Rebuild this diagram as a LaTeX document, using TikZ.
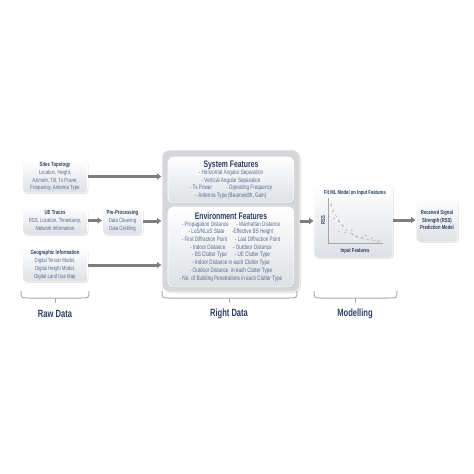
\documentclass[tikz,border=0pt]{standalone}
\usepackage{fontspec}
\setmainfont{Liberation Sans}[FakeStretch=0.72]
\usetikzlibrary{shapes,arrows,arrows.meta,shadows}
\definecolor{titleblue}{HTML}{2B3F63}
\definecolor{bodyblue}{HTML}{566C92}
\definecolor{boxgray}{HTML}{DDE0E5}
\definecolor{outergray}{HTML}{D6D7DA}
\definecolor{arrowgray}{HTML}{7E7E7E}
\tikzstyle{block} = [rectangle, draw=white, line width=0.6pt, top color=white,
    bottom color=boxgray, rounded corners=4pt, align=center, inner sep=1pt,
    text=bodyblue, font=\fontsize{6}{7.9}\selectfont,
    drop shadow={opacity=0.3, shadow xshift=0.8pt, shadow yshift=-0.8pt}]
\tikzstyle{outer} = [rectangle, draw=white, line width=0.8pt, fill=outergray,
    rounded corners=7pt, drop shadow={opacity=0.25, shadow xshift=1pt, shadow yshift=-1pt}]
\tikzstyle{feature} = [block, rounded corners=6pt, font=\fontsize{6.4}{7.7}\selectfont]
\tikzstyle{line} = [draw=arrowgray, line width=3pt, dash pattern=on 0.6pt off 0.35pt,
    -{Latex[length=4.5pt, width=7pt]}]
\tikzstyle{brace} = [draw=gray!65, line width=1pt]
\tikzstyle{stage} = [text=titleblue, font=\bfseries\fontsize{10.5}{12}\selectfont]
\newcommand{\hd}[1]{{\bfseries\color{titleblue}#1}}
\newcommand{\bighd}[1]{{\bfseries\color{titleblue}\fontsize{9.5}{11}\selectfont #1}}

\begin{document}
\begin{tikzpicture}[x=1pt, y=-1pt]
    \useasboundingbox (0,0) rectangle (474,474);
    % Place nodes
    \node [block, minimum width=65pt, minimum height=33pt] (sites) at (55,176.5)
        {\hd{Sites Topology}\\Location, Height,\\Azimuth, Tilt, Tx Power,\\Frequency, Antenna Type};
    \node [block, minimum width=65pt, minimum height=29pt] (ue) at (55,220.5)
        {\hd{UE Traces}\\RSS, Location, Timestamp,\\Network Information};
    \node [block, minimum width=65pt, minimum height=34pt] (geo) at (55,265)
        {\hd{Geographic Information}\\Digital Terrain Model,\\Digital Height Model,\\Digital Land Use Map};
    \node [block, minimum width=40pt, minimum height=28pt] (pre) at (122.5,221)
        {\hd{Pre-Processing}\\Data Cleaning\\Data Gridding};
    \node [outer, minimum width=138pt, minimum height=142pt] (rightdata) at (231,221) {};
    \node [feature, minimum width=126pt, minimum height=46pt] (system) at (231,180)
        {\bighd{System Features}\\[-1pt]
         - Horizontal Angular Separation\\
         - Vertical Angular Separation\\
         - Tx Power \qquad - Operating Frequency\\
         - Antenna Type (Beamwidth, Gain)};
    \node [feature, minimum width=126pt, minimum height=80pt] (env) at (231,247)
        {\bighd{Environment Features}\\[-1pt]
         - Propagation Distance \quad - Manhattan Distance\\
         - LoS/NLoS State \quad -Effective BS Height\\
         - First Diffraction Point \quad - Last Diffraction Point\\
         - Indoor Distance \quad - Outdoor Distance\\
         - BS Clutter Type \quad - UE Clutter Type\\
         - Indoor Distance in each Clutter Type\\
         - Outdoor Distance \ in each Clutter Type\\
         - No. of Building Penetrations in each Clutter Type};
    \node [block, minimum width=79pt, minimum height=73pt] (model) at (353.5,221.5) {};
    \node [text=titleblue, font=\bfseries\fontsize{5.8}{7}\selectfont] (fit) at (355,193)
        {Fit ML Model on Input Features};
    \node [text=titleblue, font=\bfseries\fontsize{5.8}{7}\selectfont] (xlab) at (355,251)
        {Input Features};
    \node [text=titleblue, font=\bfseries\fontsize{5.8}{7}\selectfont, rotate=90] (ylab) at (323,220)
        {RSS};
    \node [block, minimum width=42pt, minimum height=44pt, text=titleblue,
        font=\bfseries\fontsize{5.8}{7.6}\selectfont] (predict) at (437,220)
        {Received Signal\\Strength (RSS)\\Prediction Model};
    % Plot inside the model box
    \draw [gray!70, line width=0.6pt] (328,198) -- (328,243) -- (383,243);
    \draw [gray!60, line width=0.5pt, dashed] (331,203) .. controls (340,230) and (352,240) .. (381,241);
    \foreach \px/\py in {331/206, 333/212, 329/217, 334/219, 339/222, 343/226, 339/232,
        345/233, 352/231, 353/235, 357/237, 362/238, 366/236, 372/239, 378/242}
        \node [text=gray, font=\fontsize{4.5}{4.5}\selectfont, inner sep=0pt] at (\px,\py) {+};
    % Draw edges
    \path [line] (sites.east) -- (sites.east -| rightdata.west);
    \path [line] (ue.east) -- (ue.east -| pre.west);
    \path [line] (pre.east) -- (pre.east -| rightdata.west);
    \path [line] (geo.east) -- (geo.east -| rightdata.west);
    \path [line] (rightdata.east) -- (rightdata.east -| model.west);
    \path [line] (model.east |- predict.west) -- (predict.west);
    % Stages
    \path [brace] (21,291) .. controls (21,298) .. (29,298) -- (81,298) .. controls (89,298) .. (89,291);
    \path [brace] (55,298) -- (55,303);
    \path [brace] (162,291) .. controls (162,298) .. (170,298) -- (289,298) .. controls (297,298) .. (297,291);
    \path [brace] (229,298) -- (229,303);
    \path [brace] (314,291) .. controls (314,298) .. (322,298) -- (389,298) .. controls (397,298) .. (397,291);
    \path [brace] (355,298) -- (355,303);
    \node [stage] (raw) at (55,314) {Raw Data};
    \node [stage] (right) at (229,314) {Right Data};
    \node [stage] (modelling) at (355,314) {Modelling};
\end{tikzpicture}
\end{document}
